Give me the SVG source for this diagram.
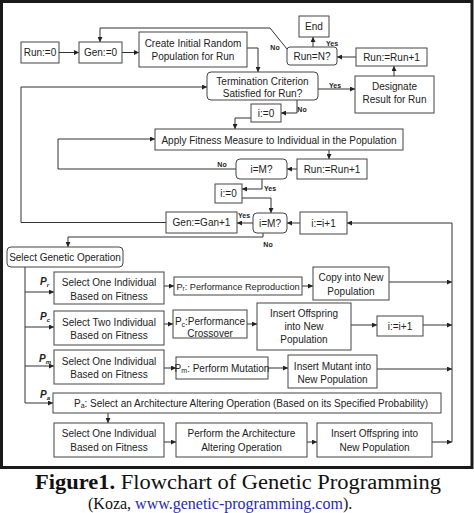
<svg xmlns="http://www.w3.org/2000/svg" width="474" height="513" viewBox="0 0 474 513">
<style>
.b{fill:#fff;stroke:#444;stroke-width:1}
.t{font-family:"Liberation Sans",Arial,sans-serif;font-size:10px;fill:#222;text-anchor:middle}
.l{font-family:"Liberation Sans",Arial,sans-serif;font-size:7px;font-weight:bold;fill:#222;text-anchor:middle}
.p{font-family:"Liberation Sans",Arial,sans-serif;font-size:10px;font-weight:bold;font-style:italic;fill:#222}
.c{fill:none;stroke:#333;stroke-width:1}
.a{marker-end:url(#ah)}
</style>
<defs>
<marker id="ah" viewBox="0 0 6 6" refX="6" refY="3" markerWidth="5" markerHeight="5" orient="auto" markerUnits="userSpaceOnUse"><path d="M0,0 L6,3 L0,6 z" fill="#222"/></marker>
</defs>
<rect x="0" y="0" width="474" height="513" fill="#fff"/>
<rect x="1.5" y="1.5" width="470.5" height="466" fill="none" stroke="#1a1a1a" stroke-width="3"/>

<g id="connectors">
<path class="c a" d="M59,52.5 H79"/>
<path class="c a" d="M122,52.5 H139"/>
<path class="c a" d="M287,49 L270,28 H100 V42"/>
<path class="c a" d="M313,47 V37"/>
<path class="c a" d="M356,57 H337"/>
<path class="c a" d="M394,76 V66"/>
<path class="c a" d="M247,48 H258 V72"/>
<path class="c a" d="M318,89 H355"/>
<path class="c a" d="M297,100 V113 H281"/>
<path class="c a" d="M251,118 H235 V129"/>
<path class="c a" d="M166,222.5 H21 V87 H207"/>
<path class="c a" d="M329,150 V159"/>
<path class="c a" d="M297,169 H287"/>
<path class="c a" d="M236,169 H58 V139 H155"/>
<path class="c a" d="M262,179 V189 H242"/>
<path class="c a" d="M242,198 H271 V213"/>
<path class="c a" d="M300,223 H287"/>
<path class="c a" d="M452,442 V223 H347"/>
<path class="c a" d="M253,223 H237"/>
<path class="c a" d="M263,233 V237 H68 V247"/>
<path class="c a" d="M25,267 V403 H53"/>
<path class="c a" d="M25,292 H54"/>
<path class="c a" d="M25,327 H54"/>
<path class="c a" d="M25,366 H54"/>
<path class="c a" d="M164,286 H174"/>
<path class="c a" d="M302,286 H313"/>
<path class="c a" d="M389,282 H452"/>
<path class="c a" d="M164,324 H173"/>
<path class="c a" d="M247,324 H257"/>
<path class="c a" d="M351,325 H377"/>
<path class="c a" d="M423,325 H452"/>
<path class="c a" d="M164,368 H176"/>
<path class="c a" d="M268,368 H288"/>
<path class="c a" d="M377,369 H452"/>
<path class="c a" d="M108,413 V423"/>
<path class="c a" d="M164,442 H176"/>
<path class="c a" d="M307,442 H317"/>
<path class="c a" d="M432,442 H452"/>
<text class="l" x="275" y="50">No</text>
<text class="l" x="332" y="46">Yes</text>
<text class="l" x="335" y="88">Yes</text>
<text class="l" x="302" y="112">No</text>
<text class="l" x="222" y="167">No</text>
<text class="l" x="270" y="191">Yes</text>
<text class="l" x="244" y="218">Yes</text>
<text class="l" x="268" y="247">No</text>
<text class="p" x="40" y="285">P<tspan font-size="6" dy="1.5">r</tspan></text>
<text class="p" x="40" y="320">P<tspan font-size="6" dy="1.5">c</tspan></text>
<text class="p" x="39" y="362">P<tspan font-size="6" dy="1.5">m</tspan></text>
<text class="p" x="40" y="398">P<tspan font-size="6" dy="1.5">a</tspan></text>
</g>

<g id="run0"><rect class="b" x="21" y="42" width="38" height="21"/><text class="t" x="40" y="56">Run:=0</text></g>
<g id="gen0"><rect class="b" x="79" y="42" width="43" height="21"/><text class="t" x="100.5" y="56">Gen:=0</text></g>
<g id="create"><rect class="b" x="139" y="32" width="108" height="35"/><text class="t" x="193" y="47">Create Initial Random</text><text class="t" x="193" y="60">Population for Run</text></g>
<g id="end"><rect class="b" x="299" y="16" width="30" height="21"/><text class="t" x="314" y="30">End</text></g>
<g id="runN"><rect class="b" x="287" y="47" width="50" height="18" rx="3"/><text class="t" x="312" y="59.5">Run=N?</text></g>
<g id="runinc1"><rect class="b" x="356" y="48" width="71" height="18"/><text class="t" x="391.5" y="60.5">Run:=Run+1</text></g>
<g id="designate"><rect class="b" x="355" y="76" width="79" height="37"/><text class="t" x="394.5" y="90">Designate</text><text class="t" x="394.5" y="103">Result for Run</text></g>
<g id="term"><rect class="b" x="207" y="72" width="111" height="28" rx="4"/><text class="t" x="262.5" y="85">Termination Criterion</text><text class="t" x="262.5" y="97">Satisfied for Run?</text></g>
<g id="i0a"><rect class="b" x="251" y="104" width="30" height="18"/><text class="t" x="266" y="116.5">i:=0</text></g>
<g id="apply"><rect class="b" x="155" y="129" width="248" height="21"/><text class="t" x="279" y="143.5">Apply Fitness Measure to Individual in the Population</text></g>
<g id="im1"><rect class="b" x="236" y="159" width="51" height="20" rx="4"/><text class="t" x="261.5" y="172.5">i=M?</text></g>
<g id="runinc2"><rect class="b" x="297" y="159" width="70" height="20"/><text class="t" x="332" y="172.5">Run:=Run+1</text></g>
<g id="i0b"><rect class="b" x="215" y="184" width="27" height="19"/><text class="t" x="228.5" y="197">i:=0</text></g>
<g id="gengan"><rect class="b" x="166" y="212" width="71" height="21"/><text class="t" x="201.5" y="226">Gen:=Gan+1</text></g>
<g id="im2"><rect class="b" x="253" y="213" width="34" height="20" rx="4"/><text class="t" x="270" y="226.5">i=M?</text></g>
<g id="iinc1"><rect class="b" x="300" y="212" width="47" height="22"/><text class="t" x="323.5" y="226.5">i:=i+1</text></g>
<g id="selgen"><rect class="b" x="7" y="247" width="116" height="20" rx="4"/><text class="t" x="65" y="260.5">Select Genetic Operation</text></g>

<g id="sel1"><rect class="b" x="54" y="272" width="110" height="32"/><text class="t" x="109" y="286">Select One Individual</text><text class="t" x="109" y="299.5">Based on Fitness</text></g>
<g id="repro"><rect class="b" x="174" y="277" width="128" height="18"/><text class="t" x="238" y="289.5" style="font-size:9.2px">P<tspan font-size="6.5" dy="1.5">r</tspan><tspan dy="-1.5">: Performance Reproduction</tspan></text></g>
<g id="copy"><rect class="b" x="313" y="267" width="76" height="33"/><text class="t" x="351" y="280.5">Copy into New</text><text class="t" x="351" y="294.5">Population</text></g>

<g id="sel2"><rect class="b" x="54" y="311" width="110" height="34"/><text class="t" x="109" y="325.5">Select Two Individual</text><text class="t" x="109" y="338.5">Based on Fitness</text></g>
<g id="cross"><rect class="b" x="173" y="310" width="74" height="28"/><text class="t" x="210" y="325">P<tspan font-size="7" dy="1.5">c</tspan><tspan dy="-1.5">:Performance</tspan></text><text class="t" x="210" y="337">Crossover</text></g>
<g id="insoff"><rect class="b" x="257" y="303" width="94" height="47"/><text class="t" x="304" y="316.5">Insert Offspring</text><text class="t" x="304" y="329.5">into New</text><text class="t" x="304" y="342.5">Population</text></g>
<g id="iinc2"><rect class="b" x="377" y="316" width="46" height="20"/><text class="t" x="400" y="329.5">i:=i+1</text></g>

<g id="sel3"><rect class="b" x="54" y="350" width="110" height="34"/><text class="t" x="109" y="364.5">Select One Individual</text><text class="t" x="109" y="377.5">Based on Fitness</text></g>
<g id="mut"><rect class="b" x="176" y="357" width="92" height="22"/><text class="t" x="222" y="371.5">P<tspan font-size="7" dy="1.5">m</tspan><tspan dy="-1.5">: Perform Mutation</tspan></text></g>
<g id="insmut"><rect class="b" x="288" y="355" width="89" height="33"/><text class="t" x="332.5" y="369.5">Insert Mutant into</text><text class="t" x="332.5" y="382.5">New Population</text></g>

<g id="arch"><rect class="b" x="53" y="393" width="388" height="20"/><text class="t" x="251" y="406.5">P<tspan font-size="7" dy="1.5">a</tspan><tspan dy="-1.5">: Select an Architecture Altering Operation (Based on its Specified Probability)</tspan></text></g>

<g id="sel5"><rect class="b" x="54" y="423" width="110" height="34"/><text class="t" x="109" y="436.5">Select One Individual</text><text class="t" x="109" y="450.5">Based on Fitness</text></g>
<g id="perfarch"><rect class="b" x="176" y="423" width="131" height="34"/><text class="t" x="241.5" y="436.5">Perform the Architecture</text><text class="t" x="241.5" y="450.5">Altering Operation</text></g>
<g id="insoff2"><rect class="b" x="317" y="423" width="115" height="34"/><text class="t" x="374.5" y="436.5">Insert Offspring into</text><text class="t" x="374.5" y="450.5">New Population</text></g>

<text x="35" y="489" font-family="Liberation Serif,Times New Roman,serif" font-size="20" fill="#111" textLength="406" lengthAdjust="spacingAndGlyphs"><tspan font-weight="bold">Figure1.</tspan> Flowchart of Genetic Programming</text>
<text x="88" y="509" font-family="Liberation Serif,Times New Roman,serif" font-size="16" fill="#111">(Koza, <tspan fill="#2a2ab8">www.genetic-programming.com</tspan>).</text>
</svg>
